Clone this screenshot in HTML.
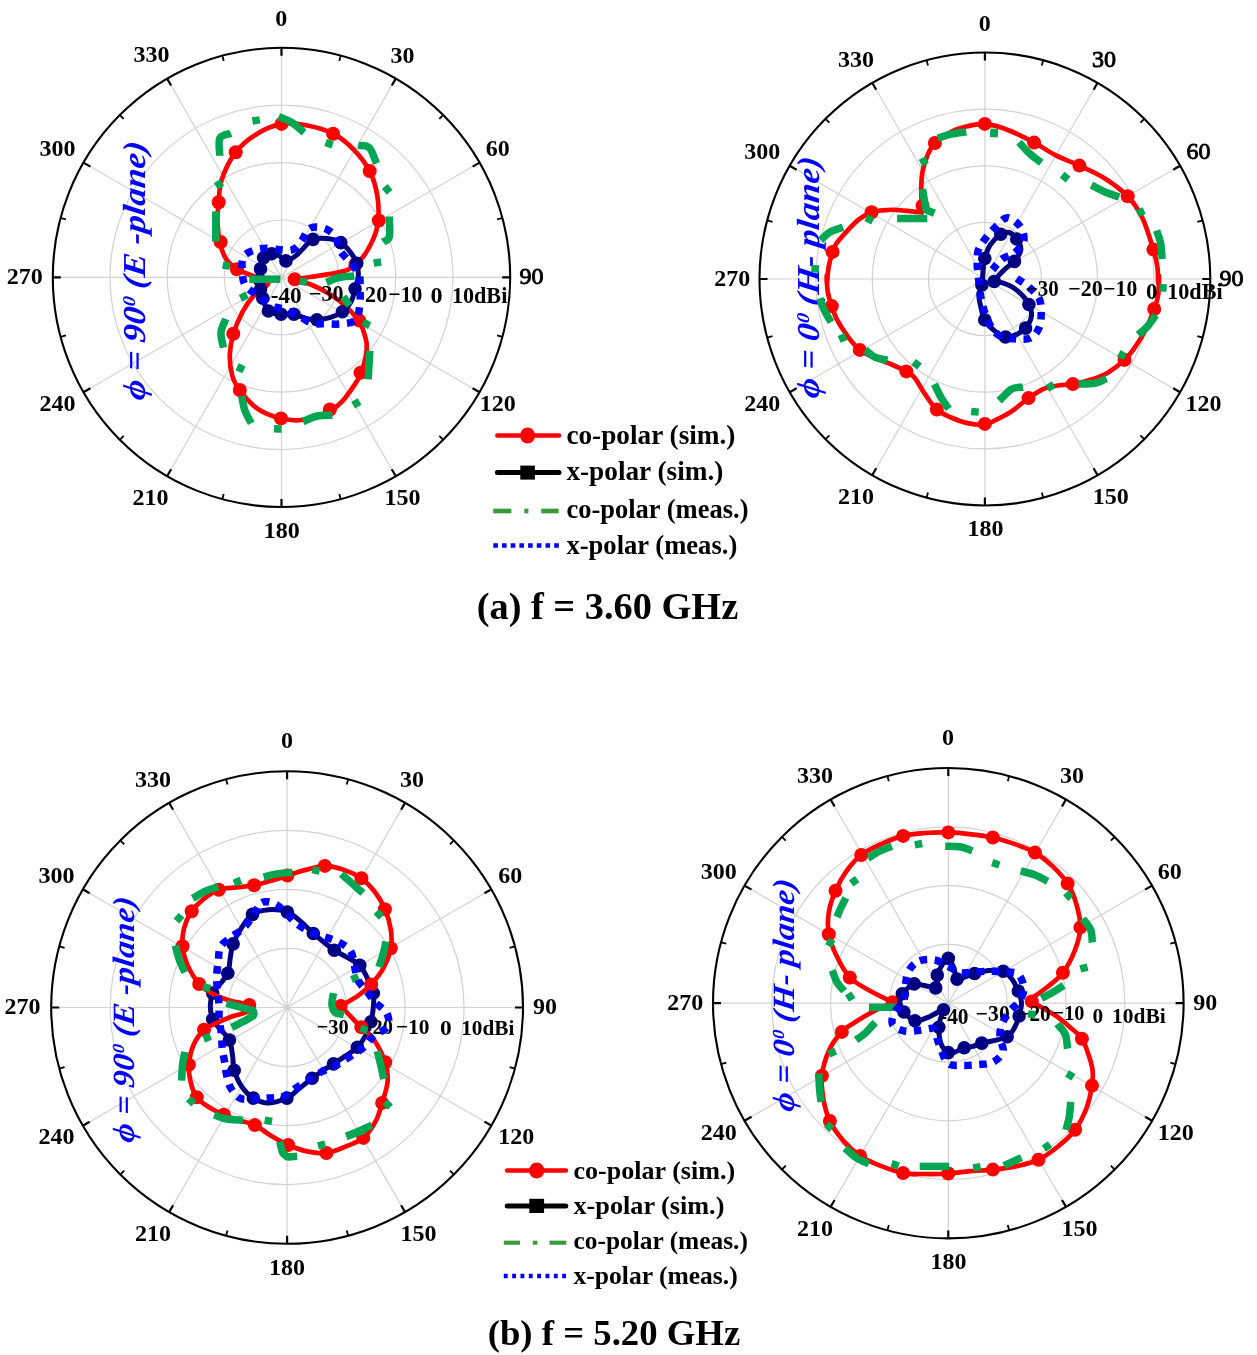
<!DOCTYPE html>
<html><head><meta charset="utf-8"><title>Radiation patterns</title>
<style>html,body{margin:0;padding:0;background:#fff}svg{display:block}text{font-family:"Liberation Serif", serif;font-weight:bold}.g{stroke:#d2d2d2;stroke-width:1.2;fill:none}.ax{stroke:#000;fill:none}.red{stroke:#f00;stroke-width:4.7;fill:none;stroke-linejoin:round}.nv{stroke:#000080;stroke-width:5;fill:none;stroke-linejoin:round}.gr{stroke:#00a651;stroke-width:7.5;fill:none;stroke-linejoin:round}.bl{stroke:#00f;stroke-width:7.5;fill:none}</style></head><body>
<svg width="1257" height="1355" viewBox="0 0 1257 1355">
<rect width="1257" height="1355" fill="#fff"/>
<g>
<ellipse class="g" cx="281.5" cy="277.4" rx="57.2" ry="57.4"/>
<ellipse class="g" cx="281.5" cy="277.4" rx="114.3" ry="114.8"/>
<ellipse class="g" cx="281.5" cy="277.4" rx="171.5" ry="172.2"/>
<path class="g" d="M281.5 277.4L281.5 47.8M281.5 277.4L395.8 78.6M281.5 277.4L479.6 162.6M281.5 277.4L510.2 277.4M281.5 277.4L479.6 392.2M281.5 277.4L395.8 476.2M281.5 277.4L281.5 507M281.5 277.4L167.1 476.2M281.5 277.4L83.4 392.2M281.5 277.4L52.8 277.4M281.5 277.4L83.4 162.6M281.5 277.4L167.1 78.6"/>
<ellipse class="ax" cx="281.5" cy="277.4" rx="228.7" ry="229.6" stroke-width="2.1"/>
<path class="ax" stroke-width="2.2" d="M281.5 47.8L281.5 55.8M395.8 78.6L391.8 85.5M479.6 162.6L472.6 166.6M510.2 277.4L502.2 277.4M479.6 392.2L472.6 388.2M395.8 476.2L391.8 469.3M281.5 507L281.5 499M167.1 476.2L171.1 469.3M83.4 392.2L90.4 388.2M52.8 277.4L60.8 277.4M83.4 162.6L90.4 166.6M167.1 78.6L171.1 85.5"/>
<path class="ax" stroke-width="1.8" d="M340.7 55.6L339.3 60.9M443.2 115L439.3 118.9M502.4 218L497.1 219.4M502.4 336.8L497.1 335.4M443.2 439.8L439.3 435.9M340.7 499.2L339.3 493.9M222.3 499.2L223.7 493.9M119.8 439.8L123.7 435.9M60.6 336.8L65.9 335.4M60.6 218L65.9 219.4M119.8 115L123.7 118.9M222.3 55.6L223.7 60.9"/>
<path class="red" d="M294.7 279.2C297.5 280.1 306 282.6 311.4 284.8C316.8 287.1 322 289.5 327.3 292.7C332.6 295.9 338 299.2 343.2 303.9C348.4 308.5 355.3 316.1 358.7 320.6C362.1 325.1 362.1 327.1 363.4 330.9C364.7 334.7 366.2 339.4 366.6 343.6C367 347.9 366.7 351.5 365.8 356.4C364.9 361.3 362.7 368.6 361 373.1C359.3 377.6 358.6 378.8 355.5 383.4C352.4 388 346.9 396.3 342.7 400.9C338.4 405.5 336.9 407.6 330 410.8C323.1 414 309.6 418.7 301.4 420C293.2 421.3 286.8 419.4 281 418.4C275.2 417.3 271 415.8 266.4 413.7C261.8 411.6 258.1 409.6 253.6 405.7C249.1 401.8 243.2 395.1 239.6 390.1C236 385.1 233.8 381.4 232.2 375.5C230.6 369.6 229.6 361.7 229.8 354.8C230 347.9 231.2 341.3 233.3 334.1C235.4 326.9 239.1 318.2 242.5 311.8C245.9 305.4 250 299.9 253.6 295.9C257.2 291.9 261.6 290.1 264 288C266.4 285.9 269 284.7 268 283C267 281.3 261.3 279.5 258 278C254.7 276.5 251.4 275.4 248 274C244.6 272.6 241 272 237.3 269.5C233.7 267 229 263.7 226.1 259.1C223.2 254.5 221.2 248.5 219.8 242.1C218.4 235.7 217.6 227.5 217.4 220.9C217.2 214.3 218 209.2 218.7 202.3C219.4 195.4 218.9 187.9 221.7 179.6C224.5 171.2 229.9 159.8 235.7 152.2C241.5 144.6 248.8 138.9 256.4 134.2C264 129.5 273 125.4 281.5 123.9C290 122.5 298.7 123.9 307.3 125.5C315.9 127.1 325.4 129.7 333.1 133.7C340.8 137.7 347.3 143.1 353.4 149.3C359.5 155.5 365.7 163.4 369.7 171.1C373.7 178.8 375.9 187.2 377.3 195.5C378.7 203.8 378.8 214 378.1 221.2C377.5 228.4 376 232.5 373.4 238.6C370.8 244.7 366.5 252.5 362.3 257.7C358.1 262.9 353.8 266.9 348 269.7C342.2 272.5 333.4 273.2 327.3 274.4C321.2 275.6 316.8 276 311.4 276.8C306 277.6 297.5 278.8 294.7 279.2"/>
<circle cx="281.5" cy="123.9" r="7.0" fill="#f00"/>
<circle cx="333.1" cy="133.7" r="7.0" fill="#f00"/>
<circle cx="369.7" cy="171.1" r="7.0" fill="#f00"/>
<circle cx="378.8" cy="220.5" r="7.0" fill="#f00"/>
<circle cx="355.4" cy="264.4" r="7.0" fill="#f00"/>
<circle cx="294.7" cy="279.2" r="7.0" fill="#f00"/>
<circle cx="359.3" cy="320.6" r="7.0" fill="#f00"/>
<circle cx="360.5" cy="372.7" r="7.0" fill="#f00"/>
<circle cx="329.9" cy="409.5" r="7.0" fill="#f00"/>
<circle cx="281" cy="418.4" r="7.0" fill="#f00"/>
<circle cx="239.8" cy="390" r="7.0" fill="#f00"/>
<circle cx="233.3" cy="333.7" r="7.0" fill="#f00"/>
<circle cx="236.9" cy="269.3" r="7.0" fill="#f00"/>
<circle cx="220.7" cy="242" r="7.0" fill="#f00"/>
<circle cx="218.7" cy="202.3" r="7.0" fill="#f00"/>
<circle cx="235.7" cy="152.2" r="7.0" fill="#f00"/>
<path class="nv" d="M313 239.4C317 237.8 322.7 238.1 327.3 238.6C331.9 239.1 337 240.3 340.8 242.6C344.6 244.9 347.8 248.8 350.4 252.2C353 255.6 355.4 259.3 356.7 263.3C358 267.3 358.6 271.8 358.3 276C358 280.2 356.3 284.6 355.1 288.8C353.9 293.1 353.3 297.7 351.2 301.5C349.1 305.3 345.8 309.2 342.4 311.8C338.9 314.4 334.8 316.1 330.5 317.4C326.2 318.7 321.1 319.7 316.9 319.8C312.6 319.9 308.8 319.1 305 318.2C301.2 317.3 297.9 314.9 293.9 314.2C289.9 313.5 285.4 314.7 281.1 314.2C276.9 313.7 271.4 313.6 268.4 311C265.3 308.4 264.1 301.9 262.8 298.3C261.5 294.7 261 292.7 260.5 289.6C260 286.6 259.7 283.4 259.7 280C259.7 276.6 259.9 272.6 260.5 268.9C261.1 265.2 261.8 260.2 263.6 257.7C265.5 255.2 268.9 254.1 271.6 253.8C274.3 253.5 277.2 254.9 279.6 256.1C282 257.3 283.2 260.9 285.9 260.9C288.5 260.9 292.6 258.2 295.5 256.1C298.4 254 300.5 251 303.4 248.2C306.3 245.4 309 241 313 239.4Z"/>
<circle cx="313" cy="239.4" r="6.8" fill="#000080"/>
<circle cx="340.8" cy="242.6" r="6.8" fill="#000080"/>
<circle cx="356.7" cy="263.3" r="6.8" fill="#000080"/>
<circle cx="355.1" cy="288.8" r="6.8" fill="#000080"/>
<circle cx="342.4" cy="311.8" r="6.8" fill="#000080"/>
<circle cx="316.9" cy="319.8" r="6.8" fill="#000080"/>
<circle cx="293.9" cy="314.2" r="6.8" fill="#000080"/>
<circle cx="281.1" cy="314.2" r="6.8" fill="#000080"/>
<circle cx="268.4" cy="311" r="6.8" fill="#000080"/>
<circle cx="262.8" cy="298.3" r="6.8" fill="#000080"/>
<circle cx="260.5" cy="289.6" r="6.8" fill="#000080"/>
<circle cx="259.7" cy="280" r="6.8" fill="#000080"/>
<circle cx="260.5" cy="268.9" r="6.8" fill="#000080"/>
<circle cx="263.6" cy="257.7" r="6.8" fill="#000080"/>
<circle cx="271.6" cy="253.8" r="6.8" fill="#000080"/>
<circle cx="285.9" cy="260.9" r="6.8" fill="#000080"/>
<text x="281.3" y="26.3" font-size="24" text-anchor="middle">0</text>
<text x="402.5" y="62.5" font-size="24" text-anchor="middle">30</text>
<text x="497.7" y="156.3" font-size="24" text-anchor="middle">60</text>
<text x="531.4" y="283.5" font-size="24" text-anchor="middle" style="font-weight:normal;stroke:#000;stroke-width:0.9px">90</text>
<text x="497.7" y="410.9" font-size="24" text-anchor="middle">120</text>
<text x="402.5" y="505.1" font-size="24" text-anchor="middle">150</text>
<text x="281.8" y="537.9" font-size="24" text-anchor="middle">180</text>
<text x="150.4" y="505.1" font-size="24" text-anchor="middle">210</text>
<text x="57.6" y="410.9" font-size="24" text-anchor="middle">240</text>
<text x="24.8" y="283.5" font-size="24" text-anchor="middle">270</text>
<text x="57.6" y="156.3" font-size="24" text-anchor="middle">300</text>
<text x="151.6" y="62" font-size="24" text-anchor="middle">330</text>
<text x="270.7" y="302.9" font-size="24" text-anchor="start" textLength="31" lengthAdjust="spacingAndGlyphs">-40</text>
<text x="308.9" y="301" font-size="22.5" text-anchor="start" textLength="34.8" lengthAdjust="spacingAndGlyphs">−30</text>
<text x="352.5" y="301.5" font-size="23" text-anchor="start" textLength="34.7" lengthAdjust="spacingAndGlyphs">−20</text>
<text x="388.3" y="301.5" font-size="23" text-anchor="start" textLength="34" lengthAdjust="spacingAndGlyphs">−10</text>
<text x="430.4" y="302.9" font-size="22.5" text-anchor="start" textLength="12.1" lengthAdjust="spacingAndGlyphs">0</text>
<text x="451.9" y="302.9" font-size="22.5" text-anchor="start" textLength="55.4" lengthAdjust="spacingAndGlyphs">10dBi</text>
<text x="145.5" y="401" font-size="32" text-anchor="start" fill="#00f" style="font-style:italic" transform="rotate(-90 145.5 401) translate(145.5 401) skewX(-7) translate(-145.5 -401)" textLength="258.8" lengthAdjust="spacingAndGlyphs">ϕ = 90<tspan font-size="18" dy="-10">0</tspan><tspan dy="10"> (E -plane)</tspan></text>
<path class="gr" d="M278.6 116.7C280.7 117.6 287.1 119.7 291.4 122.3C295.6 124.9 302 130.9 304.1 132.6"/>
<path class="gr" d="M358.2 145.3C360.1 145.7 366.2 144.6 369.3 147.7C372.4 150.8 375.3 160.9 376.5 163.6"/>
<path class="gr" d="M389.3 216.4C389.3 219.8 390.4 232.8 389.3 237C388.2 241.2 384.1 241 383 241.8"/>
<path class="gr" d="M354.3 276C351.6 276.3 343 276.5 338.4 277.6C333.8 278.7 328.5 281.6 326.5 282.4"/>
<path class="gr" d="M280.4 279.2L249.3 279.2"/>
<path class="gr" d="M215.8 241.6L215.8 211.4"/>
<path class="gr" d="M219.8 155.7C219.8 152.8 218 141.9 219.8 138.2C221.7 134.5 229.1 134.2 230.9 133.4"/>
<path class="gr" d="M343.2 296.7L349.6 305.5"/>
<path class="gr" d="M369.8 350.8L368.2 379.4"/>
<path class="gr" d="M332.4 415.2C329.9 415.3 322.2 414.9 317.3 416C312.4 417.1 305.4 420.7 303 421.6"/>
<path class="gr" d="M251.3 423.2C250.2 421.1 246.5 415 244.9 410.5C243.3 406 242.2 398.5 241.7 396.1"/>
<path class="gr" d="M223.4 347.6C223 345.1 220.6 337.3 221 332.5C221.4 327.7 225 321.2 225.8 319"/>
<rect x="325.4" y="140.1" width="7.5" height="7.5" fill="#00a651" transform="rotate(19.6 329.2 143.8)"/>
<rect x="383.4" y="185.6" width="7.5" height="7.5" fill="#00a651" transform="rotate(-39.8 387.2 189.3)"/>
<rect x="373.6" y="258.8" width="7.5" height="7.5" fill="#00a651" transform="rotate(-8.8 377.4 262.5)"/>
<rect x="299.6" y="277.9" width="7.5" height="7.5" fill="#00a651" transform="rotate(10.9 303.4 281.6)"/>
<rect x="222.6" y="261.9" width="7.5" height="7.5" fill="#00a651" transform="rotate(12 226.3 265.7)"/>
<rect x="215.2" y="180.6" width="7.5" height="7.5" fill="#00a651" transform="rotate(-33.9 219 184.3)"/>
<rect x="252.4" y="116.7" width="7.5" height="7.5" fill="#00a651" transform="rotate(-9.2 256.1 120.4)"/>
<rect x="362.6" y="320.1" width="7.5" height="7.5" fill="#00a651" transform="rotate(28.7 366.3 323.8)"/>
<rect x="352.6" y="399.6" width="7.5" height="7.5" fill="#00a651" transform="rotate(-30.7 356.3 403.3)"/>
<rect x="274.1" y="425.1" width="7.5" height="7.5" fill="#00a651" transform="rotate(1.4 277.8 428.8)"/>
<rect x="236.8" y="364.6" width="7.5" height="7.5" fill="#00a651" transform="rotate(24.2 240.6 368.3)"/>
<rect x="240.1" y="292.9" width="7.5" height="7.5" fill="#00a651" transform="rotate(-27.1 243.8 296.7)"/>
<path class="bl" stroke-dasharray="7.5 7.80" stroke-dashoffset="0" d="M309.8 228.3C313.7 226.1 319.9 227 324.1 228.3C328.3 229.6 332.6 232.6 335.2 236.3C337.8 240 337.6 246.4 340 250.6C342.4 254.8 346.4 257.6 349.6 261.7C352.8 265.8 357.4 270.8 359.1 275.2C360.8 279.6 359.8 283.2 359.9 288C360 292.8 360.6 298.6 359.9 303.9C359.2 309.2 358.9 316.5 355.9 319.8C352.8 323.1 346.6 323.1 341.6 323.8C336.6 324.5 330.7 323.9 325.7 323.8C320.7 323.7 316.2 324.5 311.4 323C306.6 321.5 301.6 317.3 297.1 315C292.6 312.7 288.6 311 284.3 309.4C280.1 307.8 275.8 307.8 271.6 305.5C267.4 303.2 263.3 299.2 258.9 295.9C254.5 292.6 248.1 290 245.3 285.6C242.5 281.2 242.4 274.6 242.2 269.7C241.9 264.8 241.6 259.4 243.8 256.1C246.1 252.8 251.9 251.1 255.7 249.8C259.5 248.5 262.8 248.2 266.8 248.2C270.8 248.2 275.4 249.5 279.6 249.8C283.9 250.1 288.7 251.1 292.3 249.8C295.9 248.5 298.1 245.4 301 241.8C303.9 238.2 305.9 230.6 309.8 228.3Z"/>
</g>
<g>
<ellipse class="g" cx="984.9" cy="279" rx="56.4" ry="56.6"/>
<ellipse class="g" cx="984.9" cy="279" rx="112.7" ry="113.2"/>
<ellipse class="g" cx="984.9" cy="279" rx="169.1" ry="169.9"/>
<path class="g" d="M984.9 279L984.9 52.5M984.9 279L1097.6 82.8M984.9 279L1180.1 165.7M984.9 279L1210.3 279M984.9 279L1180.1 392.2M984.9 279L1097.6 475.2M984.9 279L984.9 505.5M984.9 279L872.2 475.2M984.9 279L789.7 392.3M984.9 279L759.5 279M984.9 279L789.7 165.7M984.9 279L872.2 82.8"/>
<ellipse class="ax" cx="984.9" cy="279" rx="225.4" ry="226.5" stroke-width="2.1"/>
<path class="ax" stroke-width="2.2" d="M984.9 52.5L984.9 60.5M1097.6 82.8L1093.6 89.8M1180.1 165.7L1173.2 169.7M1210.3 279L1202.3 279M1180.1 392.2L1173.2 388.2M1097.6 475.2L1093.6 468.2M984.9 505.5L984.9 497.5M872.2 475.2L876.2 468.2M789.7 392.3L796.6 388.3M759.5 279L767.5 279M789.7 165.7L796.6 169.7M872.2 82.8L876.2 89.8"/>
<path class="ax" stroke-width="1.8" d="M1043.2 60.2L1041.8 65.5M1144.3 118.8L1140.4 122.7M1202.6 220.4L1197.3 221.8M1202.6 337.6L1197.3 336.2M1144.3 439.2L1140.4 435.3M1043.2 497.8L1041.8 492.5M926.6 497.8L928 492.5M825.5 439.2L829.4 435.3M767.2 337.6L772.5 336.2M767.2 220.4L772.5 221.8M825.5 118.8L829.4 122.7M926.6 60.2L928 65.5"/>
<path class="red" d="M923.8 212.6C921.7 212.4 916.1 211.9 911.4 211.4C906.7 210.9 900.3 210 895.5 209.8C890.7 209.6 886.7 209.9 882.7 210.3C878.7 210.7 875.6 210.7 871.6 212.2C867.6 213.7 863.1 216 858.9 219.3C854.6 222.6 849.8 228.1 846.1 232.1C842.4 236.1 838.9 239.9 836.6 243.2C834.4 246.5 833.9 247.9 832.6 251.9C831.3 255.9 829.5 261.9 828.6 267.1C827.7 272.3 827.3 281.5 827 283C826.7 284.5 826.6 274.4 826.7 275.9C826.8 277.4 826.9 286.8 827.8 291.8C828.6 296.8 830.3 301.6 831.8 306.1C833.3 310.6 834 313.8 836.6 318.9C839.2 323.9 843.9 331.2 847.7 336.4C851.6 341.6 855.5 346.4 859.7 349.9C864 353.3 868.3 354.9 873.2 357.1C878.1 359.4 883.6 361 889.1 363.4C894.6 365.8 902 369 906.3 371.4C910.5 373.8 911.4 373.7 914.6 377.7C917.8 381.7 922 389.9 925.7 395.2C929.4 400.5 932.5 405.9 936.8 409.6C941 413.3 946.2 415.2 951.2 417.5C956.2 419.8 961.5 421.9 967.1 423.1C972.7 424.3 979.8 425.2 984.6 424.7C989.4 424.2 991.4 422.1 995.9 419.9C1000.4 417.6 1006.4 414.8 1011.8 411.2C1017.2 407.6 1023.2 401.8 1028.5 398.1C1033.8 394.4 1038.9 391 1043.6 388.9C1048.2 386.8 1051.5 386.5 1056.4 385.7C1061.3 384.9 1067.2 385 1072.8 384.1C1078.4 383.2 1084 382 1089.8 380.1C1095.5 378.2 1101.5 376.4 1107.3 373C1113.1 369.6 1119.7 364.4 1124.5 359.9C1129.3 355.4 1132.4 350.9 1135.9 345.9C1139.4 340.9 1142.5 336.1 1145.5 330C1148.5 323.9 1152.1 314.8 1154.2 309C1156.3 303.2 1157.4 300.5 1158.2 295C1159 289.5 1159 277.9 1159 275.9C1159 273.9 1158.5 284.5 1158.2 283C1157.9 281.5 1158.2 272.7 1157.4 267.1C1156.6 261.5 1155.9 257.8 1153.4 249.6C1150.9 241.4 1146.6 226.6 1142.3 217.7C1138 208.8 1134.1 202.9 1127.7 196.3C1121.3 189.7 1112.1 183.1 1104.1 178C1096 172.9 1087.4 169.3 1079.4 165.6C1071.5 161.9 1064 159.5 1056.4 155.7C1048.9 151.9 1042.1 146.8 1034.1 142.6C1026.1 138.3 1016.8 133.3 1008.6 130.2C1000.4 127.1 991.7 124.6 984.8 123.9C977.9 123.2 972.7 125 967.1 126.3C961.5 127.6 956.6 129 951.2 131.8C945.8 134.6 938.9 139 934.9 143C930.9 147 929.4 150.9 927.3 155.7C925.2 160.5 923.5 166 922.5 171.6C921.5 177.2 921.3 184.1 921.2 189.1C921.1 194.1 921.3 197.9 921.7 201.8C922.1 205.7 923.4 210.8 923.8 212.6"/>
<circle cx="984.8" cy="123.9" r="7.0" fill="#f00"/>
<circle cx="1034.1" cy="142.6" r="7.0" fill="#f00"/>
<circle cx="1079.4" cy="165.6" r="7.0" fill="#f00"/>
<circle cx="1127.7" cy="196.3" r="7.0" fill="#f00"/>
<circle cx="1153.4" cy="249.6" r="7.0" fill="#f00"/>
<circle cx="1154.2" cy="309" r="7.0" fill="#f00"/>
<circle cx="1124.5" cy="359.9" r="7.0" fill="#f00"/>
<circle cx="1072.8" cy="384.1" r="7.0" fill="#f00"/>
<circle cx="1028.5" cy="398.1" r="7.0" fill="#f00"/>
<circle cx="984.8" cy="423.9" r="7.0" fill="#f00"/>
<circle cx="936.8" cy="409.6" r="7.0" fill="#f00"/>
<circle cx="906.3" cy="371.4" r="7.0" fill="#f00"/>
<circle cx="859.7" cy="349.9" r="7.0" fill="#f00"/>
<circle cx="831.8" cy="306.1" r="7.0" fill="#f00"/>
<circle cx="832.6" cy="251.9" r="7.0" fill="#f00"/>
<circle cx="871.6" cy="212.2" r="7.0" fill="#f00"/>
<circle cx="922.5" cy="205.8" r="7.0" fill="#f00"/>
<circle cx="934.9" cy="143" r="7.0" fill="#f00"/>
<path class="nv" d="M981.9 285C982.6 281.1 982.6 275.3 983.1 270.9C983.6 266.5 983.6 262.8 984.8 258.5C986 254.2 987.5 248.9 990.2 244.9C992.9 240.9 997.6 236.4 1000.8 234.3C1003.9 232.2 1006.5 231.7 1009.1 232.5C1011.8 233.3 1014.7 236.2 1016.7 239C1018.7 241.8 1021.3 245.9 1020.9 249.6C1020.5 253.3 1017.2 258 1014.4 261.4C1011.6 264.8 1007.6 266.3 1004.3 269.7C1000.9 273.1 994.7 279.3 994.3 281.5C993.9 283.7 998.8 281.6 1002 282.7C1005.2 283.8 1010.3 285.7 1013.8 288C1017.3 290.3 1020.7 293.6 1023.2 296.3C1025.7 299.1 1027.5 301.3 1028.9 304.5C1030.3 307.7 1032 311.8 1031.5 315.7C1031 319.6 1028.2 325 1025.6 328.1C1023 331.2 1019.5 333.1 1016.1 334.6C1012.8 336.1 1009 337.6 1005.5 337C1002 336.4 998.4 334 994.9 331.1C991.4 328.2 987.2 324 984.8 319.9C982.4 315.8 981.7 310.5 980.7 306.3C979.7 302.1 978.7 298.1 978.9 294.5C979.1 290.9 981.2 288.9 981.9 285Z"/>
<circle cx="981.9" cy="285" r="6.8" fill="#000080"/>
<circle cx="984.8" cy="258.5" r="6.8" fill="#000080"/>
<circle cx="1000.8" cy="234.3" r="6.8" fill="#000080"/>
<circle cx="1016.7" cy="239" r="6.8" fill="#000080"/>
<circle cx="1014.4" cy="261.4" r="6.8" fill="#000080"/>
<circle cx="994.3" cy="281.5" r="6.8" fill="#000080"/>
<circle cx="1028.9" cy="304.5" r="6.8" fill="#000080"/>
<circle cx="1025.6" cy="328.1" r="6.8" fill="#000080"/>
<circle cx="1005.5" cy="337" r="6.8" fill="#000080"/>
<circle cx="984.8" cy="319.9" r="6.8" fill="#000080"/>
<text x="984.8" y="30.9" font-size="24" text-anchor="middle">0</text>
<text x="1104.1" y="66.5" font-size="24" text-anchor="middle" style="font-weight:normal;stroke:#000;stroke-width:0.9px">30</text>
<text x="1198.4" y="159.3" font-size="24" text-anchor="middle" style="font-weight:normal;stroke:#000;stroke-width:0.9px">60</text>
<text x="1231.5" y="285.5" font-size="24" text-anchor="middle" style="font-weight:normal;stroke:#000;stroke-width:0.9px">90</text>
<text x="1203.4" y="410.9" font-size="24" text-anchor="middle">120</text>
<text x="1110.7" y="503.6" font-size="24" text-anchor="middle">150</text>
<text x="985.6" y="536" font-size="24" text-anchor="middle">180</text>
<text x="856.1" y="503.6" font-size="24" text-anchor="middle">210</text>
<text x="762.3" y="410.9" font-size="24" text-anchor="middle">240</text>
<text x="732.3" y="285.6" font-size="24" text-anchor="middle">270</text>
<text x="762.3" y="159.3" font-size="24" text-anchor="middle">300</text>
<text x="856.1" y="66.5" font-size="24" text-anchor="middle">330</text>
<text x="818.8" y="399" font-size="32" text-anchor="start" fill="#00f" style="font-style:italic" transform="rotate(-90 818.8 399) translate(818.8 399) skewX(-7) translate(-818.8 -399)" textLength="241.3" lengthAdjust="spacingAndGlyphs">ϕ = 0<tspan font-size="18" dy="-10">0</tspan><tspan dy="10"> (H- plane)</tspan></text>
<path class="gr" d="M937.6 138.2C939.9 137.5 946.4 135.3 951.2 134.2C956 133.1 963.8 132.2 966.3 131.8"/>
<path class="gr" d="M1019 142.2C1020.7 144 1025.6 149.9 1029.3 153.3C1033 156.7 1039.3 161.2 1041.3 162.8"/>
<path class="gr" d="M1091.4 185.1C1093.8 186.3 1101.1 190.3 1105.7 192.3C1110.3 194.3 1117 196.3 1119.2 197.1"/>
<path class="gr" d="M1156.6 230.5C1157.3 232.6 1159.7 238.4 1160.6 243.2C1161.5 248 1161.9 256.5 1162.2 259.1"/>
<path class="gr" d="M1155.8 314.9C1154.3 316.9 1150 323.5 1147.1 326.8C1144.2 330.1 1139.8 333.5 1138.3 334.8"/>
<path class="gr" d="M1106.5 378.5C1104.5 379.3 1099.2 382.4 1094.6 383.3C1089.9 384.2 1081.3 384 1078.6 384.1"/>
<path class="gr" d="M1023 387.3C1021.1 387.6 1015.8 386.6 1011.8 388.9C1007.8 391.1 1001.2 398.8 999.1 400.8"/>
<path class="gr" d="M934.4 384.1C935.6 386.5 939.2 394.3 941.6 398.4C944 402.5 947.6 407.1 948.8 408.8"/>
<path class="gr" d="M865.2 349.9C866.8 351.1 871.1 355.4 874.8 357.1C878.5 358.8 885.4 359.7 887.5 360.2"/>
<path class="gr" d="M819.9 298.2C820.6 300.1 822 305.3 823.9 309.3C825.8 313.3 829.8 320 831 322.1"/>
<path class="gr" d="M843 227.3C840.9 228.1 833.9 230 830.2 232.1C826.5 234.2 822.3 238.7 820.7 240"/>
<path class="gr" d="M897.1 218.5L927.3 218.5"/>
<path class="gr" style="stroke-linejoin:bevel" d="M922.5 189.1L926 209.8L934.4 213.3"/>
<rect x="990.4" y="128.8" width="7.5" height="7.5" fill="#00a651" transform="rotate(3.6 994.1 132.6)"/>
<rect x="990.2" y="129.7" width="7.5" height="7.5" fill="#00a651" transform="rotate(3.6 994 133.4)"/>
<rect x="1061.3" y="173.4" width="7.5" height="7.5" fill="#00a651" transform="rotate(38.2 1065.1 177.2)"/>
<rect x="1137" y="208.4" width="7.5" height="7.5" fill="#00a651" transform="rotate(-23.2 1140.7 212.2)"/>
<rect x="1159.2" y="284.1" width="7.5" height="7.5" fill="#00a651" transform="rotate(2.8 1163 287.8)"/>
<rect x="1118.3" y="351.4" width="7.5" height="7.5" fill="#00a651" transform="rotate(29 1122.1 355.1)"/>
<rect x="1046.8" y="382.8" width="7.5" height="7.5" fill="#00a651" transform="rotate(-31.4 1050.5 386.5)"/>
<rect x="971.2" y="408.1" width="7.5" height="7.5" fill="#00a651" transform="rotate(4.3 975 411.9)"/>
<rect x="912.8" y="360.4" width="7.5" height="7.5" fill="#00a651" transform="rotate(38.8 916.5 364.2)"/>
<rect x="838.9" y="334.2" width="7.5" height="7.5" fill="#00a651" transform="rotate(-22.5 842.6 338)"/>
<rect x="811.4" y="265.1" width="7.5" height="7.5" fill="#00a651" transform="rotate(3.4 815.1 268.8)"/>
<rect x="865.8" y="215.6" width="7.5" height="7.5" fill="#00a651" transform="rotate(27.4 869.5 219.3)"/>
<rect x="920" y="157.6" width="7.5" height="7.5" fill="#00a651" transform="rotate(-27.4 923.8 161.3)"/>
<path class="bl" stroke-dasharray="7.5 7.19" stroke-dashoffset="0" d="M1016.7 278.5C1018.7 279.9 1024.8 283.4 1028.5 286.8C1032.2 290.2 1037.1 294.3 1039.2 298.6C1041.3 302.9 1041.2 308 1041.2 312.8C1041.2 317.6 1041 323.4 1039.2 327.6C1037.4 331.8 1034.4 336.3 1030.3 338.2C1026.2 340.1 1019.5 339.2 1014.4 338.8C1009.3 338.4 1003.6 338.1 999.6 335.8C995.6 333.5 992.8 329.3 990.2 325.2C987.7 321.1 985.9 315.7 984.3 311C982.7 306.3 981.6 301.7 980.7 296.8C979.8 291.9 979.5 286.7 978.9 281.5C978.3 276.3 977.3 270.7 977.2 265.5C977.1 260.3 976.8 254.8 978.3 250.2C979.8 245.6 983 241.7 986 237.8C989 233.9 992.6 229.9 996.1 226.6C999.6 223.2 1003.3 217.7 1007.3 217.7C1011.3 217.7 1017.5 222.8 1020.3 226.6C1023 230.4 1024.7 236.4 1023.8 240.7C1022.9 245 1018.6 249.5 1015 252.6C1011.4 255.7 1005.8 256.2 1002 259.1C998.2 262 994.1 267.9 992.5 269.7"/>
<text x="1025.9" y="296.1" font-size="22.5" text-anchor="start" textLength="32.9" lengthAdjust="spacingAndGlyphs">−30</text>
<text x="1068.3" y="296.1" font-size="22.5" text-anchor="start" textLength="34.6" lengthAdjust="spacingAndGlyphs">−20</text>
<text x="1103.3" y="296.1" font-size="22.5" text-anchor="start" textLength="33.9" lengthAdjust="spacingAndGlyphs">−10</text>
<text x="1146" y="298.6" font-size="22.5" text-anchor="start" textLength="11.5" lengthAdjust="spacingAndGlyphs">0</text>
<text x="1167.2" y="298.6" font-size="22.5" text-anchor="start" textLength="55.4" lengthAdjust="spacingAndGlyphs">10dBi</text>
</g>
<g>
<ellipse class="g" cx="287.1" cy="1007.5" rx="59" ry="59.1"/>
<ellipse class="g" cx="287.1" cy="1007.5" rx="118" ry="118.2"/>
<ellipse class="g" cx="287.1" cy="1007.5" rx="176.9" ry="177.2"/>
<path class="g" d="M287.1 1007.5L287.1 771.2M287.1 1007.5L405.1 802.9M287.1 1007.5L491.4 889.3M287.1 1007.5L523 1007.5M287.1 1007.5L491.4 1125.6M287.1 1007.5L405.1 1212.1M287.1 1007.5L287.1 1243.8M287.1 1007.5L169.1 1212.1M287.1 1007.5L82.8 1125.7M287.1 1007.5L51.2 1007.5M287.1 1007.5L82.8 889.3M287.1 1007.5L169.1 802.9"/>
<ellipse class="ax" cx="287.1" cy="1007.5" rx="235.9" ry="236.3" stroke-width="2.1"/>
<path class="ax" stroke-width="2.2" d="M287.1 771.2L287.1 779.2M405.1 802.9L401.1 809.8M491.4 889.3L484.5 893.3M523 1007.5L515 1007.5M491.4 1125.6L484.5 1121.6M405.1 1212.1L401.1 1205.2M287.1 1243.8L287.1 1235.8M169.1 1212.1L173.1 1205.2M82.8 1125.7L89.7 1121.7M51.2 1007.5L59.2 1007.5M82.8 889.3L89.7 893.3M169.1 802.9L173.1 809.8"/>
<path class="ax" stroke-width="1.8" d="M348.2 779.3L346.7 784.6M453.9 840.4L450 844.3M515 946.3L509.6 947.8M515 1068.7L509.6 1067.2M453.9 1174.6L450 1170.7M348.2 1235.7L346.7 1230.4M226 1235.7L227.5 1230.4M120.3 1174.6L124.2 1170.7M59.2 1068.7L64.6 1067.2M59.2 946.3L64.6 947.8M120.3 840.4L124.2 844.3M226 779.3L227.5 784.6"/>
<path class="nv" d="M287.4 912.1C292.8 914.1 296.6 918 300.9 921.6C305.2 925.2 309.4 930 313.3 933.5C317.2 937 320.5 939.5 324 942.3C327.5 945.1 330.4 947.7 334.3 950.2C338.2 952.7 342.9 954.9 347.1 957.4C351.4 959.9 356.5 962.1 359.8 965.4C363.1 968.7 364.6 972.7 366.9 977.3C369.1 981.9 372.2 988.2 373.3 993.2C374.4 998.2 373.7 1002.7 373.3 1007.5C372.9 1012.3 372.1 1017.3 370.9 1021.8C369.7 1026.3 368.4 1030.4 366.1 1034.6C363.9 1038.8 360.8 1043.7 357.4 1047.2C354 1050.8 349.5 1053.1 345.5 1055.9C341.5 1058.7 337.4 1061.4 333.5 1063.9C329.6 1066.4 326 1068.6 322.4 1071C318.8 1073.4 316 1075.3 312.1 1078.2C308.2 1081.1 303.5 1085.2 299.3 1088.5C295.1 1091.8 292 1095.7 286.9 1098.1C281.8 1100.5 274 1102.9 268.4 1102.9C262.8 1102.9 257.8 1100.9 253.3 1098.1C248.8 1095.3 244.6 1090.8 241.4 1086.1C238.2 1081.4 235.7 1075.2 234.2 1070.2C232.7 1065.2 233.4 1060.9 232.6 1055.9C231.8 1050.9 231.4 1044.4 229.4 1040C227.4 1035.6 223.5 1033.2 220.7 1029.7C217.9 1026.2 214.4 1023.3 212.7 1019.3C211 1015.3 210.3 1010.2 210.3 1005.8C210.3 1001.4 211.2 996.5 212.7 993.1C214.2 989.7 216.6 988.4 219.1 985.1C221.6 981.8 226 977.7 227.8 973.2C229.7 968.7 229.3 963.1 230.2 958.2C231.1 953.3 231.2 948.9 233.1 943.9C235 938.9 238.2 932.9 241.4 928C244.6 923.1 248 917.4 252.5 914.4C257 911.4 262.6 910.1 268.4 909.7C274.2 909.3 282 910.1 287.4 912.1Z"/>
<circle cx="287.4" cy="912.1" r="6.8" fill="#000080"/>
<circle cx="313.3" cy="933.5" r="6.8" fill="#000080"/>
<circle cx="334.3" cy="950.2" r="6.8" fill="#000080"/>
<circle cx="359.8" cy="965.4" r="6.8" fill="#000080"/>
<circle cx="373.3" cy="993.2" r="6.8" fill="#000080"/>
<circle cx="370.9" cy="1021.8" r="6.8" fill="#000080"/>
<circle cx="357.4" cy="1047.2" r="6.8" fill="#000080"/>
<circle cx="333.5" cy="1063.9" r="6.8" fill="#000080"/>
<circle cx="312.1" cy="1078.2" r="6.8" fill="#000080"/>
<circle cx="286.9" cy="1098.1" r="6.8" fill="#000080"/>
<circle cx="253.3" cy="1098.1" r="6.8" fill="#000080"/>
<circle cx="234.2" cy="1070.2" r="6.8" fill="#000080"/>
<circle cx="229.4" cy="1040" r="6.8" fill="#000080"/>
<circle cx="212.7" cy="1019.3" r="6.8" fill="#000080"/>
<circle cx="212.7" cy="993.1" r="6.8" fill="#000080"/>
<circle cx="227.8" cy="973.2" r="6.8" fill="#000080"/>
<circle cx="233.1" cy="943.9" r="6.8" fill="#000080"/>
<circle cx="252.5" cy="914.4" r="6.8" fill="#000080"/>
<path class="red" d="M340.7 1005.8C342.6 1007.8 348.4 1014.1 351.8 1017.7C355.2 1021.3 357.7 1023.6 361.4 1027.3C365.1 1031 370.1 1034.2 374.1 1040C378.1 1045.8 382.9 1055.4 385.2 1062.3C387.4 1069.2 388.1 1074.6 387.6 1081.4C387.1 1088.2 384.1 1096.3 382.1 1102.9C380.1 1109.5 378.8 1115.4 375.7 1121.2C372.6 1127 368.3 1133.7 363.3 1137.9C358.3 1142.1 351.6 1144.1 345.5 1146.6C339.4 1149.1 332.8 1152.2 326.4 1153C320 1153.8 313.7 1152.7 307.3 1151.4C300.9 1150.1 294.3 1147.7 288.2 1145C282.1 1142.3 276.2 1138.8 270.7 1135.5C265.1 1132.2 260.1 1127.6 254.9 1125.1C249.8 1122.6 245 1122.1 239.8 1120.4C234.6 1118.7 228.9 1116.9 223.9 1114.8C218.9 1112.7 214.1 1110.5 209.6 1107.6C205.1 1104.7 200 1101.7 196.8 1097.3C193.6 1092.9 191.8 1086.8 190.5 1081.4C189.2 1076 188.4 1070.8 188.9 1064.7C189.4 1058.6 191.1 1050.6 193.6 1044.8C196.1 1039 200.3 1033.3 204 1029.7C207.7 1026.1 211.8 1025.3 215.9 1023.3C220 1021.3 224.3 1019.3 228.6 1017.7C232.8 1016.1 237.5 1015.1 241.4 1013.8C245.3 1012.5 250.4 1010.5 252.2 1009.8"/>
<path class="red" d="M252.2 1009.8C251.7 1009 253.2 1006.6 249.3 1005C245.4 1003.4 234.7 1002.1 228.6 1000.2C222.5 998.4 217.6 996.6 212.7 993.9C207.8 991.2 203.4 988.9 199.2 984C195 979.1 190.1 970.9 187.3 964.6C184.5 958.3 183 952.4 182.5 946.3C182 940.2 182.6 933.8 184.1 928C185.6 922.2 188.5 916.1 191.7 911.3C194.9 906.5 198.7 902.9 203.2 899.3C207.7 895.7 213.2 891.8 218.8 889.8C224.4 887.8 230.7 888.1 236.6 887.4C242.5 886.6 248.5 886.4 254.1 885.3C259.7 884.2 264.4 882.6 270 881C275.6 879.4 281.4 877.4 287.4 875.5C293.3 873.6 299.5 871.5 305.7 869.9C311.9 868.3 318.4 865.9 324.8 865.9C331.2 865.9 337.8 867.8 343.9 869.9C350 872 356.1 874.4 361.4 878.3C366.7 882.1 371.8 887.9 375.7 893C379.6 898.1 382.4 903.1 384.9 909.2C387.4 915.3 389.8 923.1 390.8 929.6C391.8 936.1 392 941.9 390.8 948.3C389.6 954.6 387 961.7 383.7 967.7C380.4 973.7 375.4 979.8 371.2 984.4C366.9 989 363.3 992 358.2 995.6C353.1 999.2 343.6 1004.2 340.7 1005.9"/>
<circle cx="287.4" cy="875.5" r="7.0" fill="#f00"/>
<circle cx="324.8" cy="865.9" r="7.0" fill="#f00"/>
<circle cx="361.4" cy="878.3" r="7.0" fill="#f00"/>
<circle cx="384.9" cy="909.2" r="7.0" fill="#f00"/>
<circle cx="390.8" cy="948.3" r="7.0" fill="#f00"/>
<circle cx="371.2" cy="984.4" r="7.0" fill="#f00"/>
<circle cx="340.7" cy="1005.9" r="7.0" fill="#f00"/>
<circle cx="361.4" cy="1027.3" r="7.0" fill="#f00"/>
<circle cx="385.2" cy="1062.3" r="7.0" fill="#f00"/>
<circle cx="382.1" cy="1102.9" r="7.0" fill="#f00"/>
<circle cx="363.3" cy="1137.9" r="7.0" fill="#f00"/>
<circle cx="326.4" cy="1153" r="7.0" fill="#f00"/>
<circle cx="288.2" cy="1145" r="7.0" fill="#f00"/>
<circle cx="254.9" cy="1125.1" r="7.0" fill="#f00"/>
<circle cx="223.9" cy="1114.8" r="7.0" fill="#f00"/>
<circle cx="196.8" cy="1097.3" r="7.0" fill="#f00"/>
<circle cx="188.9" cy="1064.7" r="7.0" fill="#f00"/>
<circle cx="204" cy="1029.7" r="7.0" fill="#f00"/>
<circle cx="249.3" cy="1005" r="7.0" fill="#f00"/>
<circle cx="199.2" cy="984" r="7.0" fill="#f00"/>
<circle cx="182.5" cy="946.3" r="7.0" fill="#f00"/>
<circle cx="191.7" cy="911.3" r="7.0" fill="#f00"/>
<circle cx="218.8" cy="889.8" r="7.0" fill="#f00"/>
<circle cx="254.1" cy="885.3" r="7.0" fill="#f00"/>
<text x="287" y="748.4" font-size="24" text-anchor="middle">0</text>
<text x="412" y="786.5" font-size="24" text-anchor="middle">30</text>
<text x="510.2" y="882.8" font-size="24" text-anchor="middle">60</text>
<text x="544.9" y="1013.6" font-size="24" text-anchor="middle">90</text>
<text x="516.2" y="1144.4" font-size="24" text-anchor="middle">120</text>
<text x="418.5" y="1241.1" font-size="24" text-anchor="middle">150</text>
<text x="287.1" y="1274.8" font-size="24" text-anchor="middle">180</text>
<text x="152.9" y="1241.1" font-size="24" text-anchor="middle">210</text>
<text x="56.6" y="1144.4" font-size="24" text-anchor="middle">240</text>
<text x="22.6" y="1013.7" font-size="24" text-anchor="middle">270</text>
<text x="56.6" y="882.8" font-size="24" text-anchor="middle">300</text>
<text x="152.9" y="786.5" font-size="24" text-anchor="middle">330</text>
<text x="316.7" y="1034.1" font-size="22" text-anchor="start" textLength="32.1" lengthAdjust="spacingAndGlyphs">−30</text>
<text x="360.9" y="1034.1" font-size="22" text-anchor="start" textLength="32" lengthAdjust="spacingAndGlyphs">−20</text>
<text x="396" y="1033.8" font-size="22" text-anchor="start" textLength="33.5" lengthAdjust="spacingAndGlyphs">−10</text>
<text x="440" y="1035.3" font-size="22" text-anchor="start" textLength="11.7" lengthAdjust="spacingAndGlyphs">0</text>
<text x="461.2" y="1035.3" font-size="22" text-anchor="start" textLength="53.1" lengthAdjust="spacingAndGlyphs">10dBi</text>
<text x="134.4" y="1143.4" font-size="31" text-anchor="start" fill="#00f" style="font-style:italic" transform="rotate(-90 134.4 1143.4) translate(134.4 1143.4) skewX(-7) translate(-134.4 -1143.4)" textLength="245.7" lengthAdjust="spacingAndGlyphs">ϕ = 90<tspan font-size="17" dy="-10">0</tspan><tspan dy="10"> (E -plane)</tspan></text>
<path class="gr" d="M192.8 898.5C194.8 897.3 200.6 893.4 204.8 891.4C209.1 889.4 216.1 887.4 218.3 886.6"/>
<path class="gr" d="M263.6 877C265.7 876.5 271.6 874.7 276.4 873.9C281.2 873.1 289.6 872.6 292.3 872.3"/>
<path class="gr" d="M341.5 873.9C342.9 875.2 346.6 878.6 350.2 881.8C353.8 885 360.9 891.1 363 893"/>
<path class="gr" d="M386 941.5C385.5 943.8 384.1 950.8 382.9 955C381.7 959.2 379.6 964.9 378.9 966.9"/>
<path class="gr" d="M333.5 993.2C333.2 995.1 331.6 1001.1 331.9 1004.3C332.2 1007.5 333.1 1010.6 335.1 1012.3C337.1 1014 342.4 1014.3 343.9 1014.7"/>
<path class="gr" d="M377.3 1051.1C377.8 1053.2 379.4 1059.2 380.5 1063.9C381.6 1068.6 383.2 1076.5 383.7 1079"/>
<path class="gr" d="M371.7 1125.1C369.7 1126 364 1128.8 359.8 1130.7C355.6 1132.6 348.6 1135.4 346.3 1136.3"/>
<path class="gr" d="M346.4 1136.3C348 1135.8 352.8 1134.2 355.9 1133.1C359 1132 363.5 1130.4 365 1129.9"/>
<path class="gr" d="M214.3 1114.8C216.2 1115.5 220.7 1117.9 225.5 1118.8C230.3 1119.7 240.1 1120.1 243 1120.4"/>
<path class="gr" d="M184.9 1051.9C184.5 1054.2 183 1060.7 182.5 1065.5C182 1070.3 181.8 1078.1 181.7 1080.6"/>
<path class="gr" d="M175.3 945.5C176 947.9 177.7 955.3 179.3 959.8C180.9 964.3 184 970.4 184.9 972.5"/>
<path class="gr" style="stroke-linejoin:bevel" d="M226.3 1003.4L241.4 1007.4L253.3 1010.6L254.1 1015.3L244.6 1020.9L231.8 1027.3"/>
<path class="gr" style="stroke-linejoin:bevel" d="M279.6 1141.8L282.7 1153L287.5 1157L297.1 1156.2"/>
<rect x="233.7" y="878" width="7.5" height="7.5" fill="#00a651" transform="rotate(-21.6 237.4 881.8)"/>
<rect x="312.2" y="866.6" width="7.5" height="7.5" fill="#00a651" transform="rotate(11.9 316 870.4)"/>
<rect x="375.1" y="910.6" width="7.5" height="7.5" fill="#00a651" transform="rotate(44.6 378.9 914.4)"/>
<rect x="351.2" y="974.4" width="7.5" height="7.5" fill="#00a651" transform="rotate(-23.4 355 978.1)"/>
<rect x="360.1" y="1025.5" width="7.5" height="7.5" fill="#00a651" transform="rotate(15.8 363.8 1029.2)"/>
<rect x="383.9" y="1100.7" width="7.5" height="7.5" fill="#00a651" transform="rotate(44 387.6 1104.4)"/>
<rect x="317.9" y="1141.2" width="7.5" height="7.5" fill="#00a651" transform="rotate(-14.1 321.6 1145)"/>
<rect x="264.6" y="1117" width="7.5" height="7.5" fill="#00a651" transform="rotate(9.4 268.4 1120.8)"/>
<rect x="187.6" y="1097.5" width="7.5" height="7.5" fill="#00a651" transform="rotate(-44.4 191.3 1101.3)"/>
<rect x="203.4" y="1033.8" width="7.5" height="7.5" fill="#00a651" transform="rotate(-20.6 207.2 1037.6)"/>
<rect x="202.9" y="983.9" width="7.5" height="7.5" fill="#00a651" transform="rotate(13.9 206.7 987.6)"/>
<rect x="175.2" y="914.6" width="7.5" height="7.5" fill="#00a651" transform="rotate(39.5 179 918.4)"/>
<path class="bl" stroke-dasharray="7.5 7.41" stroke-dashoffset="0" d="M261.9 902.5C265.6 900.6 271.4 902.2 275.5 904.1C279.6 906 283 910.3 286.6 913.6C290.2 916.9 292.9 921 296.9 924C300.9 927 306 929.8 310.5 931.9C315 934 319.5 935.1 324 936.7C328.5 938.3 333.1 939.2 337.5 941.5C341.9 943.8 347.4 946.4 350.2 950.2C353 954.1 352.9 959.6 354.2 964.6C355.5 969.6 355.9 975.9 358.2 980.5C360.4 985.1 364.8 988.7 367.7 992.4C370.6 996.1 372.5 999.2 375.7 1002.7C378.9 1006.2 384.8 1009.1 386.8 1013.1C388.8 1017.1 389.7 1022.9 387.6 1026.6C385.5 1030.3 377.9 1032.1 374.1 1035.4C370.3 1038.7 368.1 1043.3 364.6 1046.5C361.2 1049.7 358.2 1051.1 353.4 1054.3C348.6 1057.5 341.2 1062.6 335.9 1065.5C330.6 1068.4 326.1 1069.4 321.6 1071.8C317.1 1074.2 313.3 1077 308.9 1079.8C304.5 1082.6 299.6 1085.7 295.3 1088.5C291.1 1091.3 287.9 1094.9 283.4 1096.5C278.9 1098.1 273.2 1097.7 268.3 1098.1C263.4 1098.5 258.9 1098.9 254.1 1098.9C249.3 1098.9 243.8 1100.1 239.8 1098.1C235.8 1096.1 232.4 1091 230.2 1086.9C227.9 1082.8 227.2 1077.5 226.3 1073.4C225.4 1069.3 225.4 1066.5 224.7 1062.3C224 1058.1 222.8 1052.7 222.3 1048C221.8 1043.3 222 1039.2 221.5 1034.4C221 1029.6 219.5 1024.2 219.1 1019.3C218.7 1014.4 219.4 1009.8 219.1 1005C218.8 1000.2 217.9 995.5 217.5 990.7C217.1 985.9 216.6 981.4 216.7 976.4C216.8 971.4 217.6 965.6 218.3 960.6C219 955.6 218.4 950.3 220.7 946.3C222.9 942.3 228 939.8 231.8 936.7C235.7 933.7 240.2 931.6 243.8 928C247.4 924.4 250.3 919.5 253.3 915.2C256.3 911 258.2 904.4 261.9 902.5Z"/>
</g>
<g>
<ellipse class="g" cx="948.3" cy="1003.2" rx="58.8" ry="58.8"/>
<ellipse class="g" cx="948.3" cy="1003.2" rx="117.7" ry="117.6"/>
<ellipse class="g" cx="948.3" cy="1003.2" rx="176.5" ry="176.4"/>
<path class="g" d="M948.3 1003.2L948.3 768M948.3 1003.2L1066 799.5M948.3 1003.2L1152.1 885.6M948.3 1003.2L1183.6 1003.2M948.3 1003.2L1152.1 1120.8M948.3 1003.2L1066 1206.9M948.3 1003.2L948.3 1238.5M948.3 1003.2L830.6 1206.9M948.3 1003.2L744.5 1120.8M948.3 1003.2L713 1003.2M948.3 1003.2L744.5 885.6M948.3 1003.2L830.6 799.5"/>
<ellipse class="ax" cx="948.3" cy="1003.2" rx="235.3" ry="235.2" stroke-width="2.1"/>
<path class="ax" stroke-width="2.2" d="M948.3 768L948.3 776M1066 799.5L1062 806.4M1152.1 885.6L1145.1 889.6M1183.6 1003.2L1175.6 1003.2M1152.1 1120.8L1145.1 1116.8M1066 1206.9L1062 1200M948.3 1238.5L948.3 1230.5M830.6 1206.9L834.6 1200M744.5 1120.8L751.5 1116.8M713 1003.2L721 1003.2M744.5 885.6L751.5 889.6M830.6 799.5L834.6 806.4"/>
<path class="ax" stroke-width="1.8" d="M1009.2 776L1007.8 781.3M1114.7 836.9L1110.8 840.7M1175.6 942.3L1170.3 943.7M1175.6 1064.1L1170.3 1062.7M1114.7 1169.5L1110.8 1165.7M1009.2 1230.4L1007.8 1225.1M887.4 1230.4L888.8 1225.1M781.9 1169.5L785.8 1165.7M721 1064.1L726.3 1062.7M721 942.3L726.3 943.7M781.9 836.9L785.8 840.7M887.4 776L888.8 781.3"/>
<path class="red" d="M892.7 1002.2C888.7 1000.2 876 994.3 868.9 990.2C861.8 986.1 855.1 983.1 849.8 977.5C844.5 971.9 840.5 964 837 956.8C833.5 949.6 830.2 941.6 828.8 934.2C827.4 926.8 827.7 919.5 828.8 912.3C829.9 905.1 832.5 897.7 835.5 890.8C838.5 883.9 842.3 876.9 846.6 870.9C850.9 864.9 855.4 859.5 861.2 855C867 850.5 874.6 847.1 881.6 843.9C888.6 840.7 895.9 837.7 903.1 835.9C910.3 834.1 917.1 833.6 924.6 833C932.1 832.4 940.5 832.2 948.3 832.4C956.1 832.6 964 833.4 971.4 834.3C978.8 835.1 985.6 835.9 992.8 837.5C999.9 839.1 1007.3 841.4 1014.3 843.9C1021.3 846.4 1028.6 848.9 1035 852.6C1041.4 856.3 1047.1 860.9 1052.5 866.1C1057.9 871.3 1063.6 877.2 1067.6 883.6C1071.6 890 1074.3 897 1076.4 904.3C1078.5 911.6 1080.7 919.7 1080.4 927.4C1080.1 935.1 1077.7 943 1074.8 950.5C1071.9 958 1067.2 966.9 1062.9 972.7C1058.7 978.5 1055.1 980.8 1049.3 985.5C1043.5 990.2 1031.5 998.5 1027.9 1001.1"/>
<path class="red" d="M1027.9 1000.1C1030.2 1001.3 1036.5 1004.5 1041.4 1007.3C1046.3 1010.1 1052.5 1013.5 1057.3 1016.8C1062.1 1020.1 1065.9 1023.5 1070 1027.2C1074.1 1030.9 1078.7 1033.9 1081.9 1038.8C1085.1 1043.7 1087.3 1051.2 1089.1 1056.6C1090.9 1061.9 1092.1 1066.1 1092.6 1070.9C1093.1 1075.7 1093 1079.5 1092 1085.6C1091 1091.7 1089.5 1100.1 1086.7 1107.5C1083.9 1114.9 1079.7 1123.4 1075.1 1129.8C1070.5 1136.2 1065 1140.7 1058.9 1145.7C1052.8 1150.7 1045.7 1156.2 1038.5 1159.7C1031.3 1163.2 1023.5 1164.8 1015.9 1166.4C1008.3 1168.1 1000.5 1168.8 992.8 1169.6C985.1 1170.4 977.2 1170.5 969.8 1171.2C962.4 1171.9 955.8 1173 948.3 1173.5C940.8 1174 932.1 1174.1 924.6 1174C917.1 1173.9 910.5 1174.5 903.1 1173.1C895.7 1171.7 887.2 1168.4 880 1165.6C872.8 1162.8 866.2 1160.1 860.1 1156C854 1151.9 848.4 1146.7 843.4 1140.9C838.4 1135.1 833.2 1127.9 829.9 1121C826.6 1114.1 824.8 1107.1 823.5 1099.6C822.2 1092 821 1083.9 821.9 1075.7C822.8 1067.5 825.8 1057.5 829.1 1050.2C832.4 1042.9 837.3 1036.7 841.8 1031.9C846.3 1027.1 850.8 1025 856.1 1021.6C861.4 1018.2 867.5 1014.4 873.6 1011.3C879.7 1008.2 889.5 1004.2 892.7 1002.8"/>
<circle cx="948.3" cy="832.4" r="7.0" fill="#f00"/>
<circle cx="992.8" cy="837.5" r="7.0" fill="#f00"/>
<circle cx="1035" cy="852.6" r="7.0" fill="#f00"/>
<circle cx="1067.6" cy="883.6" r="7.0" fill="#f00"/>
<circle cx="1080.4" cy="927.4" r="7.0" fill="#f00"/>
<circle cx="1062.9" cy="972.7" r="7.0" fill="#f00"/>
<circle cx="1031.8" cy="1001.4" r="7.0" fill="#f00"/>
<circle cx="1081.9" cy="1038.8" r="7.0" fill="#f00"/>
<circle cx="1092" cy="1085.6" r="7.0" fill="#f00"/>
<circle cx="1075.1" cy="1129.8" r="7.0" fill="#f00"/>
<circle cx="1038.5" cy="1159.7" r="7.0" fill="#f00"/>
<circle cx="992.8" cy="1169.6" r="7.0" fill="#f00"/>
<circle cx="948.3" cy="1173.5" r="7.0" fill="#f00"/>
<circle cx="903.1" cy="1173.1" r="7.0" fill="#f00"/>
<circle cx="860.1" cy="1156" r="7.0" fill="#f00"/>
<circle cx="829.9" cy="1121" r="7.0" fill="#f00"/>
<circle cx="821.9" cy="1075.7" r="7.0" fill="#f00"/>
<circle cx="841.8" cy="1031.9" r="7.0" fill="#f00"/>
<circle cx="892.7" cy="1002.2" r="7.0" fill="#f00"/>
<circle cx="849.8" cy="977.5" r="7.0" fill="#f00"/>
<circle cx="828.8" cy="934.2" r="7.0" fill="#f00"/>
<circle cx="835.5" cy="890.8" r="7.0" fill="#f00"/>
<circle cx="861.2" cy="855" r="7.0" fill="#f00"/>
<circle cx="903.1" cy="835.9" r="7.0" fill="#f00"/>
<path class="nv" d="M948.3 958.4C950.3 958.9 952.4 964.5 953.9 968C955.4 971.5 955 977.6 957 979.1C959 980.6 962.9 977.6 965.8 976.7C968.7 975.8 970.8 974.5 974.6 973.5C978.5 972.5 984.1 970.8 988.9 970.4C993.7 970 999.4 969.8 1003.2 971.2C1007 972.7 1009.4 975.8 1011.9 979.1C1014.4 982.4 1016.7 987 1018.3 991C1019.9 995 1021.4 998.8 1021.5 1003C1021.6 1007.2 1020.3 1011.8 1019.1 1016C1017.9 1020.2 1016.3 1024.5 1014.3 1028C1012.3 1031.5 1010.7 1034.6 1007.2 1036.7C1003.8 1038.8 997.9 1039.6 993.6 1040.7C989.4 1041.8 985.1 1042.2 981.7 1043.1C978.3 1044 975.9 1045.5 973 1046.3C970.1 1047.1 967.1 1046.9 964.2 1047.8C961.3 1048.7 958.1 1051 955.5 1051.8C952.9 1052.6 950.7 1053.9 948.3 1052.6C945.9 1051.3 942.7 1048.1 941.1 1043.9C939.5 1039.7 938.8 1031.7 938.8 1027.2C938.8 1022.7 940.3 1019.7 941.1 1016.8C941.9 1013.9 945.5 1009.7 943.5 1009.7C941.5 1009.7 934 1014.9 929.3 1016.8C924.5 1018.6 919.2 1021.6 915 1020.8C910.8 1020 906.4 1015 903.9 1012C901.4 1009 900.2 1005.5 899.9 1002.5C899.6 999.5 901.1 996.1 902.3 993.8C903.5 991.5 905.1 990.4 907.1 988.7C909.1 987.1 911.3 984.4 914.2 983.9C917.1 983.4 921 984.8 924.6 985.5C928.2 986.2 933.6 988.4 935.7 987.9C937.8 987.4 937 984.4 937.3 982.3C937.6 980.2 936.5 978 937.3 975.1C938.1 972.2 940.3 967.6 942.1 964.8C943.9 962 946.3 957.9 948.3 958.4Z"/>
<circle cx="948.3" cy="958.4" r="6.8" fill="#000080"/>
<circle cx="957" cy="979.1" r="6.8" fill="#000080"/>
<circle cx="974.6" cy="973.5" r="6.8" fill="#000080"/>
<circle cx="1003.2" cy="971.2" r="6.8" fill="#000080"/>
<circle cx="1018.3" cy="991" r="6.8" fill="#000080"/>
<circle cx="1019.1" cy="1016" r="6.8" fill="#000080"/>
<circle cx="1007.2" cy="1036.7" r="6.8" fill="#000080"/>
<circle cx="981.7" cy="1043.1" r="6.8" fill="#000080"/>
<circle cx="964.2" cy="1047.8" r="6.8" fill="#000080"/>
<circle cx="948.3" cy="1052.6" r="6.8" fill="#000080"/>
<circle cx="938.8" cy="1027.2" r="6.8" fill="#000080"/>
<circle cx="943.5" cy="1009.7" r="6.8" fill="#000080"/>
<circle cx="915" cy="1020.8" r="6.8" fill="#000080"/>
<circle cx="903.9" cy="1012" r="6.8" fill="#000080"/>
<circle cx="902.3" cy="993.8" r="6.8" fill="#000080"/>
<circle cx="914.2" cy="983.9" r="6.8" fill="#000080"/>
<circle cx="935.7" cy="987.9" r="6.8" fill="#000080"/>
<circle cx="937.3" cy="975.1" r="6.8" fill="#000080"/>
<text x="948.1" y="745.4" font-size="24" text-anchor="middle">0</text>
<text x="1072.1" y="782.5" font-size="24" text-anchor="middle">30</text>
<text x="1169.8" y="879.3" font-size="24" text-anchor="middle">60</text>
<text x="1205.2" y="1009.7" font-size="24" text-anchor="middle">90</text>
<text x="1175.8" y="1139.9" font-size="24" text-anchor="middle">120</text>
<text x="1079.6" y="1236.1" font-size="24" text-anchor="middle">150</text>
<text x="948.5" y="1269.1" font-size="24" text-anchor="middle">180</text>
<text x="815" y="1236.1" font-size="24" text-anchor="middle">210</text>
<text x="718.7" y="1139.9" font-size="24" text-anchor="middle">240</text>
<text x="685.3" y="1009.9" font-size="24" text-anchor="middle">270</text>
<text x="718.7" y="879.3" font-size="24" text-anchor="middle">300</text>
<text x="815" y="782.5" font-size="24" text-anchor="middle">330</text>
<text x="940" y="1023.6" font-size="23" text-anchor="start" textLength="28.6" lengthAdjust="spacingAndGlyphs">-40</text>
<text x="975.8" y="1021.3" font-size="22.5" text-anchor="start" textLength="33.9" lengthAdjust="spacingAndGlyphs">−30</text>
<text x="1017.3" y="1021.3" font-size="22.5" text-anchor="start" textLength="33.4" lengthAdjust="spacingAndGlyphs">−20</text>
<text x="1052.6" y="1020.3" font-size="22" text-anchor="start" textLength="31.9" lengthAdjust="spacingAndGlyphs">−10</text>
<text x="1092.4" y="1023.4" font-size="22" text-anchor="start" textLength="10.7" lengthAdjust="spacingAndGlyphs">0</text>
<text x="1112" y="1023.4" font-size="22" text-anchor="start" textLength="53.7" lengthAdjust="spacingAndGlyphs">10dBi</text>
<text x="794.4" y="1112.4" font-size="31" text-anchor="start" fill="#00f" style="font-style:italic" transform="rotate(-90 794.4 1112.4) translate(794.4 1112.4) skewX(-7) translate(-794.4 -1112.4)" textLength="232.5" lengthAdjust="spacingAndGlyphs">ϕ = 0<tspan font-size="17" dy="-10">0</tspan><tspan dy="10"> (H- plane)</tspan></text>
<path class="gr" d="M868.1 858.2C870.1 857 876 853 880 851C884 849 889.9 847.1 891.9 846.3"/>
<path class="gr" d="M945.2 846.3C947.9 846.4 956.7 846.2 961.2 847C965.7 847.8 970.4 850.3 972.3 851"/>
<path class="gr" d="M1020.7 870.9C1023.1 871.6 1030.5 873.2 1035 874.9C1039.5 876.6 1045.6 880.2 1047.7 881.3"/>
<path class="gr" d="M1082.7 918.6C1084 920.5 1089.1 925.8 1090.7 929.8C1092.3 933.8 1092 940.4 1092.3 942.5"/>
<path class="gr" d="M1063.7 985.5C1061.8 986.7 1056.2 990.5 1052.5 992.6C1048.8 994.7 1043.2 997.3 1041.4 998.2"/>
<path class="gr" d="M1057.3 1024C1058.6 1025.7 1063.5 1030.2 1065.2 1034.3C1066.9 1038.4 1067.2 1046.2 1067.6 1048.6"/>
<path class="gr" d="M1070.8 1101.9C1070.5 1104.4 1070 1112.4 1069.2 1117.1C1068.4 1121.8 1066.5 1127.7 1066 1129.8"/>
<path class="gr" d="M1021.5 1157.6C1020 1158.3 1015.6 1160.3 1012.7 1161.6C1009.8 1162.9 1005.5 1164.9 1004 1165.6"/>
<path class="gr" d="M949.1 1166.4L919.7 1166.4"/>
<path class="gr" d="M845 1148.1C846.9 1149.7 852.1 1154.9 856.1 1157.6C860.1 1160.2 866.8 1162.9 868.9 1164"/>
<path class="gr" d="M818.8 1073.3C818.9 1075.8 819.1 1083.6 819.5 1088.4C819.9 1093.2 820.8 1099.7 821.1 1101.9"/>
<path class="gr" d="M875.2 1022.4C873.6 1024.1 868.9 1029.8 865.7 1032.7C862.5 1035.6 857.7 1038.7 856.1 1039.9"/>
<path class="gr" d="M868.9 1007.3L897.5 1007.3"/>
<path class="gr" d="M832.3 970.4C833.1 972.4 835 978.9 837 982.3C839 985.7 843 989.5 844.2 991"/>
<path class="gr" d="M845.8 898C845 899.6 842.5 904.3 841 907.5C839.5 910.7 837.7 915.5 837 917.1"/>
<path class="gr" d="M848.2 993.4L852.2 999.8"/>
<rect x="914.8" y="840.5" width="7.5" height="7.5" fill="#00a651" transform="rotate(-10.6 918.5 844.2)"/>
<rect x="992" y="860" width="7.5" height="7.5" fill="#00a651" transform="rotate(18.8 995.8 863.8)"/>
<rect x="1064.7" y="891.9" width="7.5" height="7.5" fill="#00a651" transform="rotate(-41.9 1068.4 895.6)"/>
<rect x="1080.2" y="964.2" width="7.5" height="7.5" fill="#00a651" transform="rotate(-14.5 1084 968)"/>
<rect x="1028" y="1010.6" width="7.5" height="7.5" fill="#00a651" transform="rotate(7.6 1031.8 1014.4)"/>
<rect x="1066.5" y="1071.7" width="7.5" height="7.5" fill="#00a651" transform="rotate(30.6 1070.3 1075.4)"/>
<rect x="1043.2" y="1142.8" width="7.5" height="7.5" fill="#00a651" transform="rotate(-34.5 1046.9 1146.5)"/>
<rect x="973.1" y="1163.5" width="7.5" height="7.5" fill="#00a651" transform="rotate(-9.9 976.9 1167.2)"/>
<rect x="891.4" y="1161" width="7.5" height="7.5" fill="#00a651" transform="rotate(18.2 895.1 1164.8)"/>
<rect x="825.4" y="1122.8" width="7.5" height="7.5" fill="#00a651" transform="rotate(44 829.1 1126.6)"/>
<rect x="828.5" y="1048.8" width="7.5" height="7.5" fill="#00a651" transform="rotate(-23.1 832.3 1052.6)"/>
<rect x="826.6" y="939" width="7.5" height="7.5" fill="#00a651" transform="rotate(27.1 830.4 942.8)"/>
<rect x="850.5" y="877.5" width="7.5" height="7.5" fill="#00a651" transform="rotate(-37.7 854.2 881.3)"/>
<path class="bl" stroke-dasharray="7.5 7.50" stroke-dashoffset="0" d="M919.8 960.8C924 959.2 930.1 959.1 934.9 960C939.6 960.9 943.9 964.3 948.3 966.4C952.6 968.5 956.5 971.8 961 972.7C965.5 973.6 970.4 972.1 975.3 971.9C980.2 971.6 985.6 971.2 990.5 971.2C995.4 971.2 1000.2 971.4 1004.8 971.9C1009.4 972.4 1015.1 971.5 1018.3 974.3C1021.5 977.1 1023.8 984.2 1023.9 988.7C1024 993.2 1021.5 997.6 1019.1 1001.4C1016.7 1005.2 1012.5 1007.4 1009.6 1011.3C1006.7 1015.2 1003.2 1020.3 1001.6 1024.8C1000 1029.3 999.7 1033.8 1000 1038.3C1000.3 1042.8 1004.4 1047.8 1003.2 1051.8C1002 1055.8 997 1060.1 992.8 1062.2C988.5 1064.3 982.7 1064.1 977.7 1064.6C972.7 1065.1 967.5 1065.5 962.6 1065.4C957.7 1065.3 951.8 1066.3 948.3 1063.8C944.8 1061.3 943.1 1054.3 941.3 1050.2C939.5 1046.1 938.5 1042.7 937.3 1039.1C936.1 1035.5 937 1030.3 934.1 1028.8C931.2 1027.3 924.7 1029.9 919.8 1030.3C914.9 1030.7 909.2 1032 904.7 1031.1C900.2 1030.2 894.4 1027.8 892.7 1024.8C891 1021.8 892.4 1016.9 894.3 1012.8C896.2 1008.7 902 1004.9 903.9 1000.1C905.8 995.3 904.6 989 905.5 983.9C906.4 978.8 907 973.5 909.4 969.6C911.8 965.8 915.5 962.4 919.8 960.8Z"/>
</g>
<path d="M497.4 435.5H559" stroke="#f00" stroke-width="4.7" stroke-linecap="round"/>
<ellipse cx="527.6" cy="435.5" rx="7.5" ry="8" fill="#f00"/>
<path d="M497.4 472.6H559" stroke="#000" stroke-width="5.0" stroke-linecap="round"/>
<rect x="520.3" y="465.6" width="14.6" height="14" fill="#000"/>
<path d="M493.3 511H511.4" stroke="#3a9a3a" stroke-width="4.7"/>
<path d="M524.3 511H528.4" stroke="#3a9a3a" stroke-width="4.7"/>
<path d="M541.3 511H558.6" stroke="#3a9a3a" stroke-width="4.7"/>
<path d="M493.3 545.5H559.5" stroke="#00f" stroke-width="4.7" stroke-dasharray="4.6 4.1"/>
<text x="566.4" y="443.8" font-size="27" textLength="169" lengthAdjust="spacingAndGlyphs">co-polar (sim.)</text>
<text x="566.4" y="480.3" font-size="27" textLength="157" lengthAdjust="spacingAndGlyphs">x-polar (sim.)</text>
<text x="566.4" y="518" font-size="27" textLength="182.1" lengthAdjust="spacingAndGlyphs">co-polar (meas.)</text>
<text x="566.4" y="553.8" font-size="27" textLength="170.9" lengthAdjust="spacingAndGlyphs">x-polar (meas.)</text>
<path d="M507.2 1170.5H565.8" stroke="#f00" stroke-width="4.7" stroke-linecap="round"/>
<ellipse cx="536.7" cy="1170.5" rx="7.6" ry="8.1" fill="#f00"/>
<path d="M507.2 1205.9H565.8" stroke="#000" stroke-width="5.0" stroke-linecap="round"/>
<rect x="529.3" y="1198.8" width="14.8" height="14.2" fill="#000"/>
<path d="M503.8 1242.7H520" stroke="#3a9a3a" stroke-width="4.1"/>
<path d="M532.7 1242.7H537.4" stroke="#3a9a3a" stroke-width="4.1"/>
<path d="M549.5 1242.7H566.3" stroke="#3a9a3a" stroke-width="4.1"/>
<path d="M503.8 1276H566.5" stroke="#00f" stroke-width="4.3" stroke-dasharray="3.9 4.44"/>
<text x="573.5" y="1178.7" font-size="26" textLength="161.6" lengthAdjust="spacingAndGlyphs">co-polar (sim.)</text>
<text x="573.5" y="1214.3" font-size="26" textLength="150.9" lengthAdjust="spacingAndGlyphs">x-polar (sim.)</text>
<text x="573.5" y="1249" font-size="26" textLength="174.4" lengthAdjust="spacingAndGlyphs">co-polar (meas.)</text>
<text x="573.5" y="1283.8" font-size="26" textLength="164.2" lengthAdjust="spacingAndGlyphs">x-polar (meas.)</text>
<text x="476.7" y="618.9" font-size="38" textLength="261.5" lengthAdjust="spacingAndGlyphs">(a) f = 3.60 GHz</text>
<text x="487.7" y="1344.9" font-size="36.7" textLength="252.5" lengthAdjust="spacingAndGlyphs">(b) f = 5.20 GHz</text>
</svg></body></html>
